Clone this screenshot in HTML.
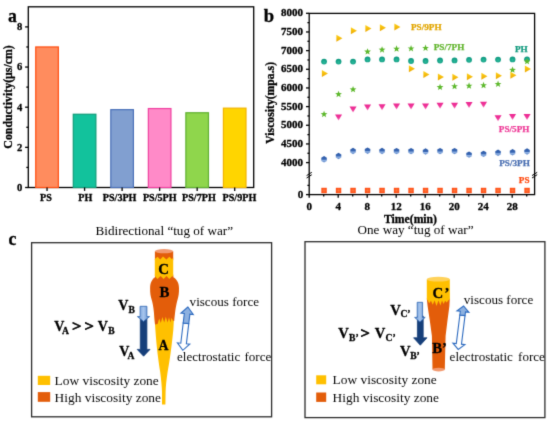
<!DOCTYPE html>
<html><head><meta charset="utf-8"><style>
html,body{margin:0;padding:0;background:#fff;}
svg{display:block;will-change:transform;}
text{font-family:"Liberation Serif", serif;stroke-linejoin:round;}
.tk,.tka,.tkb,.tkx,.at,.pl,.vb,.vs,.vb2,.vg,.fl,.fla{stroke:#000;stroke-width:0.3px;}
.ct,.lg,.lg2{stroke:none;}
.tk{font-size:10.6px;font-weight:bold;fill:#000;}
.tkb{font-size:11px;font-weight:bold;fill:#000;}
.tka{font-size:10.6px;font-weight:bold;fill:#000;}
.tkx{font-size:10.1px;font-weight:bold;fill:#000;}
.at{font-size:11.7px;font-weight:bold;fill:#000;}
.pl{font-size:18.6px;font-weight:bold;fill:#000;}
.sl{font-size:9.2px;font-weight:bold;}
.ct{font-size:13.15px;fill:#000;}
.lg{font-size:13.1px;fill:#0a0a0a;}
.lg2{font-size:13.4px;fill:#0a0a0a;}
.vb{font-size:14px;font-weight:bold;fill:#000;}
.vs{font-size:9.6px;font-weight:bold;fill:#000;}
.vb2{font-size:14.6px;font-weight:bold;fill:#000;}
.vg{font-size:15px;font-weight:bold;fill:#000;stroke-width:0.6px !important;}
.fla{font-size:13.8px;font-weight:bold;fill:#000;}
.fl{font-size:14.8px;font-weight:bold;fill:#000;}
</style></head><body>
<svg width="550" height="423" viewBox="0 0 550 423">
<defs>
<filter id="bl" x="0" y="0" width="550" height="423" filterUnits="userSpaceOnUse" color-interpolation-filters="sRGB"><feConvolveMatrix order="3" kernelMatrix="0.0144 0.0912 0.0144 0.0912 0.5776 0.0912 0.0144 0.0912 0.0144" divisor="1" edgeMode="duplicate" preserveAlpha="false"/></filter>
<linearGradient id="gb" x1="0" y1="0" x2="0" y2="1"><stop offset="0" stop-color="#2A58A6"/><stop offset="0.5" stop-color="#3A68B4"/><stop offset="0.65" stop-color="#93B4E4"/><stop offset="1" stop-color="#5A84C8"/></linearGradient>
<linearGradient id="gp" x1="0" y1="0" x2="0" y2="1"><stop offset="0" stop-color="#EC2490"/><stop offset="0.6" stop-color="#EF3C9C"/><stop offset="1" stop-color="#F57EC0"/></linearGradient>
<radialGradient id="gt" cx="0.5" cy="0.62" r="0.6"><stop offset="0" stop-color="#2CBA9C"/><stop offset="1" stop-color="#0A957C"/></radialGradient>
<linearGradient id="glb" x1="0" y1="0" x2="1" y2="0"><stop offset="0" stop-color="#6A98D6"/><stop offset="0.5" stop-color="#A6C4EC"/><stop offset="1" stop-color="#5F8ED0"/></linearGradient>
<radialGradient id="gs" cx="0.5" cy="0.5" r="0.6"><stop offset="0" stop-color="#FF7A40"/><stop offset="1" stop-color="#FF4208"/></radialGradient>
<linearGradient id="gy" x1="0" y1="0" x2="0" y2="1"><stop offset="0" stop-color="#FFD21A"/><stop offset="1" stop-color="#EBA600"/></linearGradient>
</defs>
<g filter="url(#bl)"><rect x="0" y="0" width="550" height="423" fill="#fff"/>
<rect x="28.3" y="6.8" width="225.39999999999998" height="180.7" fill="none" stroke="#000" stroke-width="1.3"/>
<line x1="25.1" y1="187.50" x2="28.3" y2="187.50" stroke="#000" stroke-width="1.3"/>
<text x="22.4" y="190.80" text-anchor="end" class="tka">0</text>
<line x1="26.3" y1="167.43" x2="28.3" y2="167.43" stroke="#000" stroke-width="1.3"/>
<line x1="25.1" y1="147.35" x2="28.3" y2="147.35" stroke="#000" stroke-width="1.3"/>
<text x="22.4" y="150.65" text-anchor="end" class="tka">2</text>
<line x1="26.3" y1="127.28" x2="28.3" y2="127.28" stroke="#000" stroke-width="1.3"/>
<line x1="25.1" y1="107.20" x2="28.3" y2="107.20" stroke="#000" stroke-width="1.3"/>
<text x="22.4" y="110.50" text-anchor="end" class="tka">4</text>
<line x1="26.3" y1="87.12" x2="28.3" y2="87.12" stroke="#000" stroke-width="1.3"/>
<line x1="25.1" y1="67.05" x2="28.3" y2="67.05" stroke="#000" stroke-width="1.3"/>
<text x="22.4" y="70.35" text-anchor="end" class="tka">6</text>
<line x1="26.3" y1="46.97" x2="28.3" y2="46.97" stroke="#000" stroke-width="1.3"/>
<line x1="25.1" y1="26.90" x2="28.3" y2="26.90" stroke="#000" stroke-width="1.3"/>
<text x="22.4" y="30.20" text-anchor="end" class="tka">8</text>
<rect x="35.75" y="46.95" width="22.6" height="140.55" fill="#FF8C5E" stroke="#FF4E10" stroke-width="1.2"/>
<line x1="47.05" y1="187.5" x2="47.05" y2="190.9" stroke="#000" stroke-width="1.3"/>
<text x="40.1" y="201.1" class="tkx">PS</text>
<rect x="73.28" y="114.25" width="22.6" height="73.25" fill="#12C29C" stroke="#0E9C78" stroke-width="1.2"/>
<line x1="84.58" y1="187.5" x2="84.58" y2="190.9" stroke="#000" stroke-width="1.3"/>
<text x="78.3" y="201.1" class="tkx">PH</text>
<rect x="110.81" y="109.65" width="22.6" height="77.85" fill="#819FD0" stroke="#4A70B8" stroke-width="1.2"/>
<line x1="122.11" y1="187.5" x2="122.11" y2="190.9" stroke="#000" stroke-width="1.3"/>
<text x="102.8" y="201.1" class="tkx">PS/3PH</text>
<rect x="148.34" y="108.55" width="22.6" height="78.95" fill="#FF8AC8" stroke="#F040A0" stroke-width="1.2"/>
<line x1="159.64" y1="187.5" x2="159.64" y2="190.9" stroke="#000" stroke-width="1.3"/>
<text x="142.9" y="201.1" class="tkx">PS/5PH</text>
<rect x="185.87" y="112.75" width="22.6" height="74.75" fill="#8FD64C" stroke="#5FB030" stroke-width="1.2"/>
<line x1="197.17" y1="187.5" x2="197.17" y2="190.9" stroke="#000" stroke-width="1.3"/>
<text x="182.1" y="201.1" class="tkx">PS/7PH</text>
<rect x="223.40" y="108.15" width="22.6" height="79.35" fill="#FFD500" stroke="#F2B400" stroke-width="1.2"/>
<line x1="234.70" y1="187.5" x2="234.70" y2="190.9" stroke="#000" stroke-width="1.3"/>
<text x="222.6" y="201.1" class="tkx">PS/9PH</text>
<text transform="translate(7.9,21.9) scale(0.9,1)" class="pl" style="font-size:19.6px">a</text>
<text transform="translate(12.4,96.95) rotate(-90)" text-anchor="middle" class="at" style="font-size:11.85px">Conductivity(μs/cm)</text>
<rect x="309.2" y="13.4" width="225.40000000000003" height="181.2" fill="none" stroke="#000" stroke-width="1.3"/>
<line x1="306.0" y1="13.30" x2="309.2" y2="13.30" stroke="#000" stroke-width="1.3"/>
<text x="303.0" y="16.30" text-anchor="end" class="tkb">8000</text>
<line x1="307.4" y1="22.63" x2="309.2" y2="22.63" stroke="#000" stroke-width="1.3"/>
<line x1="306.0" y1="31.96" x2="309.2" y2="31.96" stroke="#000" stroke-width="1.3"/>
<text x="303.0" y="34.96" text-anchor="end" class="tkb">7500</text>
<line x1="307.4" y1="41.29" x2="309.2" y2="41.29" stroke="#000" stroke-width="1.3"/>
<line x1="306.0" y1="50.62" x2="309.2" y2="50.62" stroke="#000" stroke-width="1.3"/>
<text x="303.0" y="53.62" text-anchor="end" class="tkb">7000</text>
<line x1="307.4" y1="59.96" x2="309.2" y2="59.96" stroke="#000" stroke-width="1.3"/>
<line x1="306.0" y1="69.29" x2="309.2" y2="69.29" stroke="#000" stroke-width="1.3"/>
<text x="303.0" y="72.29" text-anchor="end" class="tkb">6500</text>
<line x1="307.4" y1="78.62" x2="309.2" y2="78.62" stroke="#000" stroke-width="1.3"/>
<line x1="306.0" y1="87.95" x2="309.2" y2="87.95" stroke="#000" stroke-width="1.3"/>
<text x="303.0" y="90.95" text-anchor="end" class="tkb">6000</text>
<line x1="307.4" y1="97.28" x2="309.2" y2="97.28" stroke="#000" stroke-width="1.3"/>
<line x1="306.0" y1="106.61" x2="309.2" y2="106.61" stroke="#000" stroke-width="1.3"/>
<text x="303.0" y="109.61" text-anchor="end" class="tkb">5500</text>
<line x1="307.4" y1="115.94" x2="309.2" y2="115.94" stroke="#000" stroke-width="1.3"/>
<line x1="306.0" y1="125.27" x2="309.2" y2="125.27" stroke="#000" stroke-width="1.3"/>
<text x="303.0" y="128.27" text-anchor="end" class="tkb">5000</text>
<line x1="307.4" y1="134.61" x2="309.2" y2="134.61" stroke="#000" stroke-width="1.3"/>
<line x1="306.0" y1="143.94" x2="309.2" y2="143.94" stroke="#000" stroke-width="1.3"/>
<text x="303.0" y="146.94" text-anchor="end" class="tkb">4500</text>
<line x1="307.4" y1="153.27" x2="309.2" y2="153.27" stroke="#000" stroke-width="1.3"/>
<line x1="306.0" y1="162.60" x2="309.2" y2="162.60" stroke="#000" stroke-width="1.3"/>
<text x="303.0" y="165.60" text-anchor="end" class="tkb">4000</text>
<line x1="306.0" y1="194.6" x2="309.2" y2="194.6" stroke="#000" stroke-width="1.3"/>
<line x1="307.4" y1="185.4" x2="309.2" y2="185.4" stroke="#000" stroke-width="1.3"/>
<text x="303.3" y="197.6" text-anchor="end" class="tkb">0</text>
<line x1="306.59999999999997" y1="175.6" x2="311.8" y2="172.3" stroke="#000" stroke-width="1.0"/>
<line x1="306.59999999999997" y1="178.0" x2="311.8" y2="174.7" stroke="#000" stroke-width="1.0"/>
<line x1="532.0" y1="175.6" x2="537.2" y2="172.3" stroke="#000" stroke-width="1.0"/>
<line x1="532.0" y1="178.0" x2="537.2" y2="174.7" stroke="#000" stroke-width="1.0"/>
<line x1="309.20" y1="194.6" x2="309.20" y2="197.79999999999998" stroke="#000" stroke-width="1.3"/>
<text x="309.20" y="209.8" text-anchor="middle" class="tkb">0</text>
<line x1="323.70" y1="194.6" x2="323.70" y2="196.4" stroke="#000" stroke-width="1.3"/>
<line x1="338.20" y1="194.6" x2="338.20" y2="197.79999999999998" stroke="#000" stroke-width="1.3"/>
<text x="338.20" y="209.8" text-anchor="middle" class="tkb">4</text>
<line x1="352.70" y1="194.6" x2="352.70" y2="196.4" stroke="#000" stroke-width="1.3"/>
<line x1="367.20" y1="194.6" x2="367.20" y2="197.79999999999998" stroke="#000" stroke-width="1.3"/>
<text x="367.20" y="209.8" text-anchor="middle" class="tkb">8</text>
<line x1="381.70" y1="194.6" x2="381.70" y2="196.4" stroke="#000" stroke-width="1.3"/>
<line x1="396.20" y1="194.6" x2="396.20" y2="197.79999999999998" stroke="#000" stroke-width="1.3"/>
<text x="396.20" y="209.8" text-anchor="middle" class="tkb">12</text>
<line x1="410.70" y1="194.6" x2="410.70" y2="196.4" stroke="#000" stroke-width="1.3"/>
<line x1="425.20" y1="194.6" x2="425.20" y2="197.79999999999998" stroke="#000" stroke-width="1.3"/>
<text x="425.20" y="209.8" text-anchor="middle" class="tkb">16</text>
<line x1="439.70" y1="194.6" x2="439.70" y2="196.4" stroke="#000" stroke-width="1.3"/>
<line x1="454.20" y1="194.6" x2="454.20" y2="197.79999999999998" stroke="#000" stroke-width="1.3"/>
<text x="454.20" y="209.8" text-anchor="middle" class="tkb">20</text>
<line x1="468.70" y1="194.6" x2="468.70" y2="196.4" stroke="#000" stroke-width="1.3"/>
<line x1="483.20" y1="194.6" x2="483.20" y2="197.79999999999998" stroke="#000" stroke-width="1.3"/>
<text x="483.20" y="209.8" text-anchor="middle" class="tkb">24</text>
<line x1="497.70" y1="194.6" x2="497.70" y2="196.4" stroke="#000" stroke-width="1.3"/>
<line x1="512.20" y1="194.6" x2="512.20" y2="197.79999999999998" stroke="#000" stroke-width="1.3"/>
<text x="512.20" y="209.8" text-anchor="middle" class="tkb">28</text>
<line x1="526.70" y1="194.6" x2="526.70" y2="196.4" stroke="#000" stroke-width="1.3"/>
<text x="410.5" y="223.3" text-anchor="middle" class="at">Time(min)</text>
<text x="263.8" y="22.2" class="pl">b</text>
<text transform="translate(274.0,102.8) rotate(-90)" text-anchor="middle" class="at">Viscosity(mpa.s)</text>
<rect x="321.35" y="187.8" width="5.4" height="5.4" fill="url(#gs)"/>
<rect x="335.85" y="187.8" width="5.4" height="5.4" fill="url(#gs)"/>
<rect x="350.35" y="187.8" width="5.4" height="5.4" fill="url(#gs)"/>
<rect x="364.85" y="187.8" width="5.4" height="5.4" fill="url(#gs)"/>
<rect x="379.35" y="187.8" width="5.4" height="5.4" fill="url(#gs)"/>
<rect x="393.85" y="187.8" width="5.4" height="5.4" fill="url(#gs)"/>
<rect x="408.35" y="187.8" width="5.4" height="5.4" fill="url(#gs)"/>
<rect x="422.85" y="187.8" width="5.4" height="5.4" fill="url(#gs)"/>
<rect x="437.35" y="187.8" width="5.4" height="5.4" fill="url(#gs)"/>
<rect x="451.85" y="187.8" width="5.4" height="5.4" fill="url(#gs)"/>
<rect x="466.35" y="187.8" width="5.4" height="5.4" fill="url(#gs)"/>
<rect x="480.85" y="187.8" width="5.4" height="5.4" fill="url(#gs)"/>
<rect x="495.35" y="187.8" width="5.4" height="5.4" fill="url(#gs)"/>
<rect x="509.85" y="187.8" width="5.4" height="5.4" fill="url(#gs)"/>
<rect x="524.35" y="187.8" width="5.4" height="5.4" fill="url(#gs)"/>
<polygon points="326.82,160.90 324.05,162.50 321.28,160.90 321.28,157.70 324.05,156.10 326.82,157.70" fill="url(#gb)"/>
<polygon points="341.32,157.60 338.55,159.20 335.78,157.60 335.78,154.40 338.55,152.80 341.32,154.40" fill="url(#gb)"/>
<polygon points="355.82,152.60 353.05,154.20 350.28,152.60 350.28,149.40 353.05,147.80 355.82,149.40" fill="url(#gb)"/>
<polygon points="370.32,152.30 367.55,153.90 364.78,152.30 364.78,149.10 367.55,147.50 370.32,149.10" fill="url(#gb)"/>
<polygon points="384.82,152.60 382.05,154.20 379.28,152.60 379.28,149.40 382.05,147.80 384.82,149.40" fill="url(#gb)"/>
<polygon points="399.32,152.70 396.55,154.30 393.78,152.70 393.78,149.50 396.55,147.90 399.32,149.50" fill="url(#gb)"/>
<polygon points="413.82,152.70 411.05,154.30 408.28,152.70 408.28,149.50 411.05,147.90 413.82,149.50" fill="url(#gb)"/>
<polygon points="428.32,153.10 425.55,154.70 422.78,153.10 422.78,149.90 425.55,148.30 428.32,149.90" fill="url(#gb)"/>
<polygon points="442.82,152.70 440.05,154.30 437.28,152.70 437.28,149.50 440.05,147.90 442.82,149.50" fill="url(#gb)"/>
<polygon points="457.32,152.70 454.55,154.30 451.78,152.70 451.78,149.50 454.55,147.90 457.32,149.50" fill="url(#gb)"/>
<polygon points="471.82,156.20 469.05,157.80 466.28,156.20 466.28,153.00 469.05,151.40 471.82,153.00" fill="url(#gb)"/>
<polygon points="486.32,155.50 483.55,157.10 480.78,155.50 480.78,152.30 483.55,150.70 486.32,152.30" fill="url(#gb)"/>
<polygon points="500.82,154.40 498.05,156.00 495.28,154.40 495.28,151.20 498.05,149.60 500.82,151.20" fill="url(#gb)"/>
<polygon points="515.32,153.90 512.55,155.50 509.78,153.90 509.78,150.70 512.55,149.10 515.32,150.70" fill="url(#gb)"/>
<polygon points="529.82,153.10 527.05,154.70 524.28,153.10 524.28,149.90 527.05,148.30 529.82,149.90" fill="url(#gb)"/>
<polygon points="335.05,114.40 342.05,114.40 338.55,120.40" fill="url(#gp)"/>
<polygon points="349.55,106.60 356.55,106.60 353.05,112.60" fill="url(#gp)"/>
<polygon points="364.05,104.50 371.05,104.50 367.55,110.50" fill="url(#gp)"/>
<polygon points="378.55,104.20 385.55,104.20 382.05,110.20" fill="url(#gp)"/>
<polygon points="393.05,103.50 400.05,103.50 396.55,109.50" fill="url(#gp)"/>
<polygon points="407.55,103.50 414.55,103.50 411.05,109.50" fill="url(#gp)"/>
<polygon points="422.05,103.50 429.05,103.50 425.55,109.50" fill="url(#gp)"/>
<polygon points="436.55,102.70 443.55,102.70 440.05,108.70" fill="url(#gp)"/>
<polygon points="451.05,102.70 458.05,102.70 454.55,108.70" fill="url(#gp)"/>
<polygon points="465.55,102.00 472.55,102.00 469.05,108.00" fill="url(#gp)"/>
<polygon points="480.05,101.70 487.05,101.70 483.55,107.70" fill="url(#gp)"/>
<polygon points="494.55,115.30 501.55,115.30 498.05,121.30" fill="url(#gp)"/>
<polygon points="509.05,114.00 516.05,114.00 512.55,120.00" fill="url(#gp)"/>
<polygon points="523.55,114.00 530.55,114.00 527.05,120.00" fill="url(#gp)"/>
<circle cx="324.05" cy="61.60" r="2.9" fill="url(#gt)"/>
<circle cx="338.55" cy="61.60" r="2.9" fill="url(#gt)"/>
<circle cx="353.05" cy="61.60" r="2.9" fill="url(#gt)"/>
<circle cx="367.55" cy="59.40" r="2.9" fill="url(#gt)"/>
<circle cx="382.05" cy="59.40" r="2.9" fill="url(#gt)"/>
<circle cx="396.55" cy="59.40" r="2.9" fill="url(#gt)"/>
<circle cx="411.05" cy="61.00" r="2.9" fill="url(#gt)"/>
<circle cx="425.55" cy="61.00" r="2.9" fill="url(#gt)"/>
<circle cx="440.05" cy="60.50" r="2.9" fill="url(#gt)"/>
<circle cx="454.55" cy="60.40" r="2.9" fill="url(#gt)"/>
<circle cx="469.05" cy="59.80" r="2.9" fill="url(#gt)"/>
<circle cx="483.55" cy="59.60" r="2.9" fill="url(#gt)"/>
<circle cx="498.05" cy="59.60" r="2.9" fill="url(#gt)"/>
<circle cx="512.55" cy="59.40" r="2.9" fill="url(#gt)"/>
<circle cx="527.05" cy="59.30" r="2.9" fill="url(#gt)"/>
<polygon points="324.05,110.75 324.93,113.09 327.43,113.20 325.48,114.76 326.14,117.17 324.05,115.80 321.96,117.17 322.62,114.76 320.67,113.20 323.17,113.09" fill="#5DB82C"/>
<polygon points="338.55,90.75 339.43,93.09 341.93,93.20 339.98,94.76 340.64,97.17 338.55,95.80 336.46,97.17 337.12,94.76 335.17,93.20 337.67,93.09" fill="#5DB82C"/>
<polygon points="353.05,85.95 353.93,88.29 356.43,88.40 354.48,89.96 355.14,92.37 353.05,91.00 350.96,92.37 351.62,89.96 349.67,88.40 352.17,88.29" fill="#5DB82C"/>
<polygon points="367.55,48.15 368.43,50.49 370.93,50.60 368.98,52.16 369.64,54.57 367.55,53.20 365.46,54.57 366.12,52.16 364.17,50.60 366.67,50.49" fill="#5DB82C"/>
<polygon points="382.05,46.25 382.93,48.59 385.43,48.70 383.48,50.26 384.14,52.67 382.05,51.30 379.96,52.67 380.62,50.26 378.67,48.70 381.17,48.59" fill="#5DB82C"/>
<polygon points="396.55,45.35 397.43,47.69 399.93,47.80 397.98,49.36 398.64,51.77 396.55,50.40 394.46,51.77 395.12,49.36 393.17,47.80 395.67,47.69" fill="#5DB82C"/>
<polygon points="411.05,45.05 411.93,47.39 414.43,47.50 412.48,49.06 413.14,51.47 411.05,50.10 408.96,51.47 409.62,49.06 407.67,47.50 410.17,47.39" fill="#5DB82C"/>
<polygon points="425.55,44.55 426.43,46.89 428.93,47.00 426.98,48.56 427.64,50.97 425.55,49.60 423.46,50.97 424.12,48.56 422.17,47.00 424.67,46.89" fill="#5DB82C"/>
<polygon points="440.05,83.65 440.93,85.99 443.43,86.10 441.48,87.66 442.14,90.07 440.05,88.70 437.96,90.07 438.62,87.66 436.67,86.10 439.17,85.99" fill="#5DB82C"/>
<polygon points="454.55,82.85 455.43,85.19 457.93,85.30 455.98,86.86 456.64,89.27 454.55,87.90 452.46,89.27 453.12,86.86 451.17,85.30 453.67,85.19" fill="#5DB82C"/>
<polygon points="469.05,82.35 469.93,84.69 472.43,84.80 470.48,86.36 471.14,88.77 469.05,87.40 466.96,88.77 467.62,86.36 465.67,84.80 468.17,84.69" fill="#5DB82C"/>
<polygon points="483.55,81.85 484.43,84.19 486.93,84.30 484.98,85.86 485.64,88.27 483.55,86.90 481.46,88.27 482.12,85.86 480.17,84.30 482.67,84.19" fill="#5DB82C"/>
<polygon points="498.05,80.55 498.93,82.89 501.43,83.00 499.48,84.56 500.14,86.97 498.05,85.60 495.96,86.97 496.62,84.56 494.67,83.00 497.17,82.89" fill="#5DB82C"/>
<polygon points="512.55,66.45 513.43,68.79 515.93,68.90 513.98,70.46 514.64,72.87 512.55,71.50 510.46,72.87 511.12,70.46 509.17,68.90 511.67,68.79" fill="#5DB82C"/>
<polygon points="527.05,57.95 527.93,60.29 530.43,60.40 528.48,61.96 529.14,64.37 527.05,63.00 524.96,64.37 525.62,61.96 523.67,60.40 526.17,60.29" fill="#5DB82C"/>
<polygon points="321.85,70.10 327.95,73.60 321.85,77.10" fill="url(#gy)"/>
<polygon points="336.35,34.80 342.45,38.30 336.35,41.80" fill="url(#gy)"/>
<polygon points="350.85,27.30 356.95,30.80 350.85,34.30" fill="url(#gy)"/>
<polygon points="365.35,25.10 371.45,28.60 365.35,32.10" fill="url(#gy)"/>
<polygon points="379.85,24.20 385.95,27.70 379.85,31.20" fill="url(#gy)"/>
<polygon points="394.35,23.40 400.45,26.90 394.35,30.40" fill="url(#gy)"/>
<polygon points="408.85,65.30 414.95,68.80 408.85,72.30" fill="url(#gy)"/>
<polygon points="423.35,71.10 429.45,74.60 423.35,78.10" fill="url(#gy)"/>
<polygon points="437.85,73.40 443.95,76.90 437.85,80.40" fill="url(#gy)"/>
<polygon points="452.35,73.70 458.45,77.20 452.35,80.70" fill="url(#gy)"/>
<polygon points="466.85,73.30 472.95,76.80 466.85,80.30" fill="url(#gy)"/>
<polygon points="481.35,72.70 487.45,76.20 481.35,79.70" fill="url(#gy)"/>
<polygon points="495.85,72.30 501.95,75.80 495.85,79.30" fill="url(#gy)"/>
<polygon points="510.35,71.80 516.45,75.30 510.35,78.80" fill="url(#gy)"/>
<polygon points="524.85,65.60 530.95,69.10 524.85,72.60" fill="url(#gy)"/>
<text x="411" y="30.2" class="sl" fill="#E2A600" stroke="#E2A600" stroke-width="0.25">PS/9PH</text>
<text x="433.7" y="49.9" class="sl" fill="#62B52E" stroke="#62B52E" stroke-width="0.25">PS/7PH</text>
<text x="515" y="52.1" class="sl" fill="#119A7E" stroke="#119A7E" stroke-width="0.25">PH</text>
<text x="498.8" y="132.2" class="sl" fill="#EE3C98" stroke="#EE3C98" stroke-width="0.25">PS/5PH</text>
<text x="499.2" y="166.0" class="sl" fill="#4A6FB2" stroke="#4A6FB2" stroke-width="0.25">PS/3PH</text>
<text x="518.8" y="183.1" class="sl" fill="#FF4A10" stroke="#FF4A10" stroke-width="0.25">PS</text>
<text transform="translate(8.6,244.8) scale(0.9,1)" class="pl" style="font-size:19.8px">c</text>
<rect x="31.6" y="242.7" width="240.0" height="174.1" fill="none" stroke="#2c2c2c" stroke-width="1.3"/>
<rect x="305.0" y="241.7" width="239.9" height="175.9" fill="none" stroke="#2c2c2c" stroke-width="1.3"/>
<text x="95.5" y="234.7" class="ct">Bidirectional “tug of war”</text>
<text x="357.5" y="233.6" class="ct">One way “tug of war”</text>
<path d="M154.2,312 L174.4,312 L173.3,330 C171.5,348 169.5,362 167.6,372 C166.4,380 165.8,386 165.6,392 L165.4,404.6 L162.0,404.6 L162.0,392 C161.8,386 161.2,380 160.2,372 C158.6,362 156.6,348 155.4,330 Z" fill="#FFC000"/>
<path d="M154.9,274.5 L173.2,274.5 L173.4,277.2 C176.8,279.4 178.9,282.5 179.0,288 C179.1,293 178.6,296.2 177.6,299.5 C176.3,304 175.2,310 174.2,321.0 L173.0,320.8 L171.6,317.8 L170.4,322.4 L169.0,317.2 L167.6,322.6 L165.8,316.8 L164.2,322.6 L162.4,317.0 L160.8,323.0 L159.2,318.6 L157.6,324.0 L155.0,324.6 C154.0,310 153.0,304 151.6,299.5 C150.6,296.2 150.0,293 150.1,288 C150.2,282.5 152.0,279.4 155.0,277.2 Z" fill="#E35D0A"/>
<rect x="154.9" y="251.2" width="18.3" height="9" fill="#E35D0A"/>
<ellipse cx="164.05" cy="251.2" rx="9.15" ry="2.1" fill="#F29A70"/>
<path d="M154.8,259.0 L157.6,256.8 L160.2,259.6 L163.0,256.6 L166.4,259.6 L169.4,256.8 L172.0,259.2 L173.2,257.4 L173.2,277.0 L172.4,276.0 L169.3,279.0 L166.5,275.9 L163.6,279.0 L160.6,275.9 L157.5,279.0 L154.8,276.0 Z" fill="#FFC000"/>
<path d="M426.8,298.6 L449.8,298.6 L449.4,306 C448.2,316 446.6,326 445.6,336 L444.8,369.6 L432.5,369.6 L431.9,336 C430.6,326 429.2,316 427.6,306 Z" fill="#E35D0A"/>
<ellipse cx="438.65" cy="369.6" rx="6.15" ry="1.8" fill="#F29A70"/>
<path d="M426.8,279.2 L449.8,279.2 L449.9,299.2 L448.4,300.2 L446.7,302.6 L445.1,300.8 L443.6,304.0 L442.0,300.4 L440.4,305.4 L438.5,300.4 L436.5,306.0 L434.6,300.4 L432.7,304.8 L431.0,300.8 L429.2,303.2 L427.3,299.8 L426.8,299.4 Z" fill="#FFC000"/>
<ellipse cx="438.3" cy="279.2" rx="11.5" ry="2.4" fill="#FFD25A"/>
<rect x="37.8" y="375.8" width="12.4" height="9.2" fill="#FFC000"/>
<rect x="37.8" y="392.1" width="12.4" height="9.7" fill="#E35D0A"/>
<rect x="316.2" y="375.3" width="10.0" height="9.0" fill="#FFC000"/>
<rect x="316.2" y="392.5" width="10.0" height="9.4" fill="#E35D0A"/>
<text x="54.6" y="384.6" class="lg2">Low viscosity zone</text>
<text x="54.6" y="402.2" class="lg2">High viscosity zone</text>
<text x="332.6" y="384.4" class="lg2">Low viscosity zone</text>
<text x="332.6" y="402.2" class="lg2">High viscosity zone</text>
<text x="158.2" y="273.6" class="fl">C</text>
<text x="159.6" y="296.9" class="fl">B</text>
<text x="158.6" y="350.0" class="fla">A</text>
<text x="432.6" y="297.7" class="fl">C<tspan dx="1.2">’</tspan></text>
<text x="432.2" y="352.6" class="fl">B’</text>
<text x="189.6" y="305.5" class="lg">viscous force</text>
<text x="177.0" y="360.9" class="lg">electrostatic <tspan dx="0.9">force</tspan></text>
<text x="463.8" y="304.4" class="lg">viscous force</text>
<text x="449.6" y="360.6" class="lg">electrostatic <tspan dx="1.9">force</tspan></text>
<text x="118.3" y="309.9" class="vb">V</text>
<text x="128.4" y="312.7" class="vs">B</text>
<text x="54.3" y="330.5" class="vb">V</text>
<text x="62.1" y="333.6" class="vs">A</text>
<text transform="translate(71.9,331.0) scale(1.1,1)" class="vg">&gt;</text>
<text transform="translate(84.6,331.0) scale(1.1,1)" class="vg">&gt;</text>
<text x="97.8" y="330.5" class="vb">V</text>
<text x="108.3" y="333.5" class="vs">B</text>
<text x="119.2" y="355.5" class="vb">V</text>
<text x="127.5" y="359.0" class="vs">A</text>
<text x="390.3" y="314.5" class="vb2">V</text>
<text x="400.4" y="317.4" class="vs">C’</text>
<text x="338.2" y="337.9" class="vb2">V</text>
<text x="349.0" y="341.2" class="vs">B’</text>
<text transform="translate(360.6,338.4) scale(1.1,1)" class="vg">&gt;</text>
<text x="374.8" y="337.9" class="vb2">V</text>
<text x="385.6" y="341.2" class="vs">C’</text>
<text x="399.9" y="356.2" class="vb2">V</text>
<text x="410.2" y="359.3" class="vs">B’</text>
<path d="M140.30,318 L146.90,318 L146.90,349.4 L150.00,349.4 L143.60,356.2 L137.20,349.4 L140.30,349.4 Z" fill="#163F7A" stroke="#163F7A" stroke-width="0.8"/>
<path d="M140.10,306.3 L146.90,306.3 L146.90,316.6 L149.60,316.6 L143.50,321.4 L137.40,316.6 L140.10,316.6 Z" fill="url(#glb)" stroke="#2F66B2" stroke-width="0.8"/>
<path d="M417.40,316 L423.20,316 L423.20,337.8 L427.00,337.8 L420.30,345.2 L413.60,337.8 L417.40,337.8 Z" fill="#163F7A" stroke="#163F7A" stroke-width="0.8"/>
<path d="M417.20,302.3 L422.60,302.3 L422.60,317.4 L425.20,317.4 L419.90,322.0 L414.60,317.4 L417.20,317.4 Z" fill="url(#glb)" stroke="#2F66B2" stroke-width="0.8"/>
<polygon points="183.20,322.96 180.81,343.22 177.44,342.82 182.80,350.30 189.75,344.27 186.38,343.87 188.76,323.61" fill="#fff" stroke="#2F6CC0" stroke-width="1.1" stroke-linejoin="miter"/><polygon points="187.90,307.00 180.95,313.03 184.32,313.43 183.20,322.96 188.76,323.61 189.89,314.08 193.26,314.48" fill="#8DB1E0" stroke="#2F6CC0" stroke-width="1.1" stroke-linejoin="miter"/>
<polygon points="459.86,315.01 456.31,343.52 452.94,343.10 458.20,349.40 464.85,344.58 461.47,344.16 465.02,315.65" fill="#fff" stroke="#2F6CC0" stroke-width="1.1" stroke-linejoin="miter"/><polygon points="463.60,306.00 456.95,310.82 460.33,311.24 459.86,315.01 465.02,315.65 465.49,311.88 468.86,312.30" fill="#8DB1E0" stroke="#2F6CC0" stroke-width="1.1" stroke-linejoin="miter"/>
</g></svg>
</body></html>
